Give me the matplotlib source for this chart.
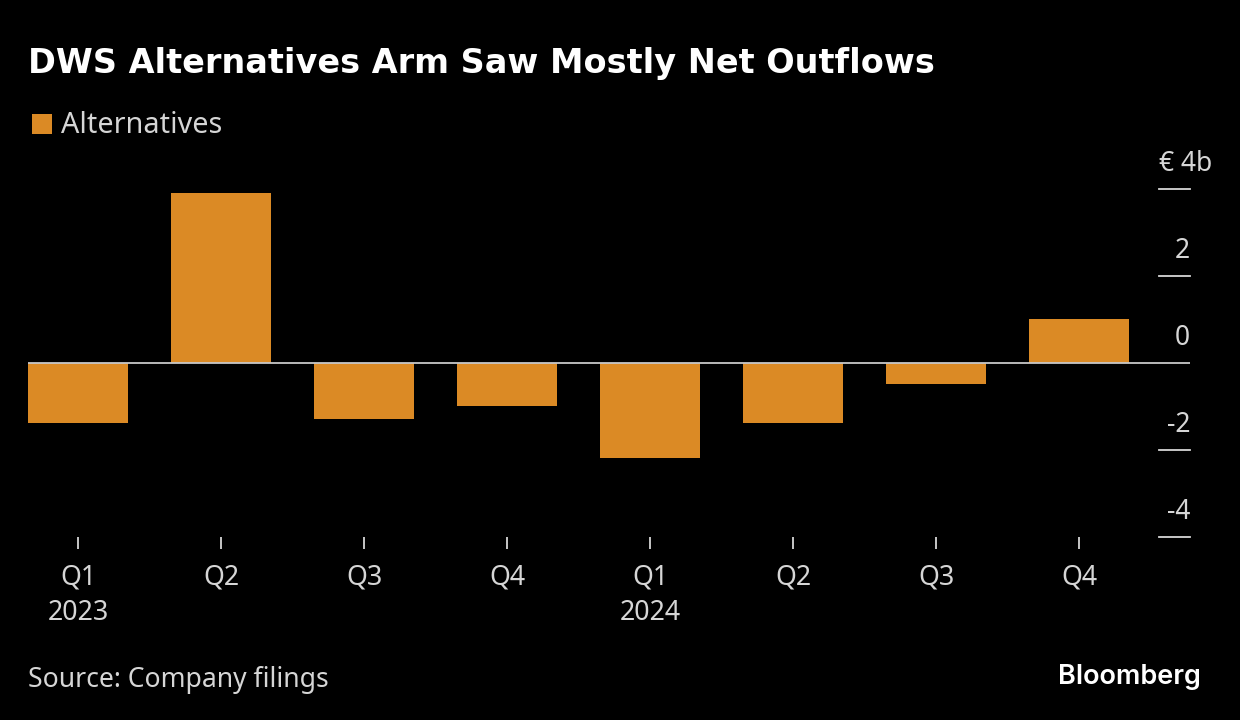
import matplotlib
matplotlib.use("Agg")
import matplotlib.pyplot as plt
from matplotlib.patches import Rectangle
from matplotlib.transforms import blended_transform_factory

quarters = ["Q1\n2023", "Q2", "Q3", "Q4", "Q1\n2024", "Q2", "Q3", "Q4"]
values = [-1.39, 3.90, -1.29, -0.99, -2.20, -1.39, -0.49, 1.00]
y_ticks = [4, 2, 0, -2, -4]
y_labels = ["€ 4b", "2", "0", "-2", "-4"]
title = "DWS Alternatives Arm Saw Mostly Net Outflows"
legend_label = "Alternatives"
source = "Source: Company filings"
brand = "Bloomberg"

W, H = 1240, 720
BAR = "#db8a25"
TXT = "#d6d6d6"
FONT = "Noto Sans"

fig = plt.figure(figsize=(W / 100, H / 100), dpi=100, facecolor="black")
L, R, T, B = 28, 1190, 189, 536.5
ax = fig.add_axes([L / W, 1 - B / H, (R - L) / W, (B - T) / H], facecolor="black")
ax.set_xlim((L - 78) / 143, (R - 78) / 143)
ax.set_ylim(-4, 4)
for s in ax.spines.values():
    s.set_visible(False)

xs = list(range(len(values)))
ax.bar(xs, values, width=100 / 143, color=BAR, linewidth=0, zorder=2)
ax.axhline(0, color="#c8c8c8", linewidth=1.3, zorder=3)

ax.set_xticks(xs)
ax.set_xticklabels(quarters, fontsize=19.3, color=TXT, family=FONT, linespacing=1.36)
ax.tick_params(axis="x", length=8.5, width=1.3, color=TXT, pad=11)

tr = blended_transform_factory(ax.transAxes, ax.transData)
x0 = 1 - 31 / (R - L)
for v, lab in zip(y_ticks, y_labels):
    if v != 0:
        ax.plot([x0, 1], [v, v], transform=tr, color=TXT, linewidth=1.3, clip_on=False, zorder=3)
    top = v == max(y_ticks)
    ax.annotate(lab, xy=(x0 if top else 1, v), xycoords=tr, xytext=(0, 7.8), textcoords="offset points",
                ha="left" if top else "right", va="bottom", fontsize=19, color=TXT, family=FONT,
                annotation_clip=False)
ax.set_yticks([])

fig.text(28 / W, 1 - 64 / H, title, fontsize=24.1, fontweight="bold", color="white",
         family="DejaVu Sans", va="center", ha="left")
fig.patches.append(Rectangle((32 / W, 1 - 134 / H), 20 / W, 20 / H, transform=fig.transFigure,
                             facecolor=BAR, edgecolor="none"))
fig.text(61 / W, 1 - 125.5 / H, legend_label, fontsize=20.7, color=TXT, family=FONT, va="center", ha="left")
fig.text(28 / W, 1 - 680 / H, source, fontsize=19.1, color=TXT, family=FONT, va="center", ha="left")
fig.text(1201 / W, 1 - 677 / H, brand, fontsize=19.5, fontweight="semibold", color="white",
         family="Inter", va="center", ha="right")

fig.savefig("out.png", dpi=100, facecolor="black")
